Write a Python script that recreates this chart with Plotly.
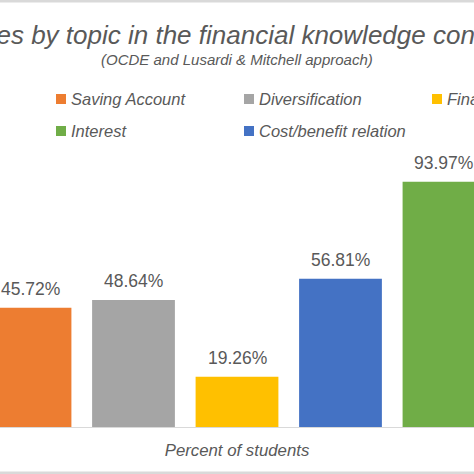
import plotly.graph_objects as go

categories = ["Saving Account", "Diversification", "Financial Products", "Cost/benefit relation", "Interest"]
values = [45.72, 48.64, 19.26, 56.81, 93.97]
colors = ["#ED7D31", "#A5A5A5", "#FFC000", "#4472C4", "#70AD47"]
legend_order = ["Saving Account", "Diversification", "Financial Products", "Interest", "Cost/benefit relation"]

title_text = "Scores by topic in the financial knowledge construct"
subtitle_text = "(OCDE and Lusardi & Mitchell approach)"
xaxis_title = "Percent of students"

W, H = 474, 474
ML, MR, MT, MB = 0, 0, 150, 47
TXT = "#595959"
FONT = "Liberation Sans"

fig = go.Figure()
fig.add_trace(go.Bar(
    x=categories, y=values,
    marker=dict(color=colors, line=dict(width=0)),
    showlegend=False, hoverinfo="skip",
))

annotations = []
for c, v in zip(categories, values):
    annotations.append(dict(
        x=c, y=v, xref="x", yref="y", text=f"{v:.2f}%", showarrow=False,
        yanchor="bottom", yshift=7, font=dict(family=FONT, size=17.5, color=TXT),
    ))

ph = H - MT - MB
def py(pix):
    return (H - MB - pix) / ph

annotations.append(dict(
    x=-59 / W, y=py(35), xref="paper", yref="paper", text=f"<i>{title_text}</i>",
    showarrow=False, xanchor="left", yanchor="middle",
    font=dict(family=FONT, size=26, color=TXT),
))
annotations.append(dict(
    x=237 / W, y=py(59), xref="paper", yref="paper", text=f"<i>{subtitle_text}</i>",
    showarrow=False, xanchor="center", yanchor="middle",
    font=dict(family=FONT, size=15, color=TXT),
))

shapes = []
col_x = [56, 244, 432]
row_y = [99, 131]
for i, name in enumerate(legend_order):
    r, cidx = divmod(i, 3)
    color = colors[categories.index(name)]
    x0 = col_x[cidx]
    yc = row_y[r]
    shapes.append(dict(type="rect", xref="paper", yref="paper",
                       x0=x0 / W, x1=(x0 + 10) / W, y0=py(yc + 5), y1=py(yc - 5),
                       fillcolor=color, line=dict(width=0)))
    annotations.append(dict(
        x=(x0 + 13) / W, y=py(yc), xref="paper", yref="paper", text=f"<i>{name}</i>",
        showarrow=False, xanchor="left", yanchor="middle",
        font=dict(family=FONT, size=16.5, color=TXT),
    ))

# chart border lines top and bottom
shapes.append(dict(type="line", xref="paper", yref="paper", x0=-0.1, x1=1.1, y0=py(1), y1=py(1),
                   line=dict(color="#D9D9D9", width=3)))
shapes.append(dict(type="line", xref="paper", yref="paper", x0=-0.1, x1=1.1, y0=py(473), y1=py(473),
                   line=dict(color="#D9D9D9", width=3)))

fig.update_layout(
    width=W, height=H,
    margin=dict(l=ML, r=MR, t=MT, b=MB, pad=0),
    paper_bgcolor="white", plot_bgcolor="white",
    bargap=0.2,
    xaxis=dict(range=[-0.29, 4.29], showticklabels=False, ticks="", showgrid=False,
               showline=True, linecolor="#D9D9D9", linewidth=1, zeroline=False,
               title=dict(text=f"<i>{xaxis_title}</i>", standoff=17,
                          font=dict(family=FONT, size=16.8, color=TXT))),
    yaxis=dict(range=[0, ph / 2.61], visible=False),
    annotations=annotations, shapes=shapes,
)

fig.write_html(
    "out.html",
    config={"displayModeBar": False},
    post_script="document.body.style.margin='0';document.body.style.overflow='hidden';",
)
